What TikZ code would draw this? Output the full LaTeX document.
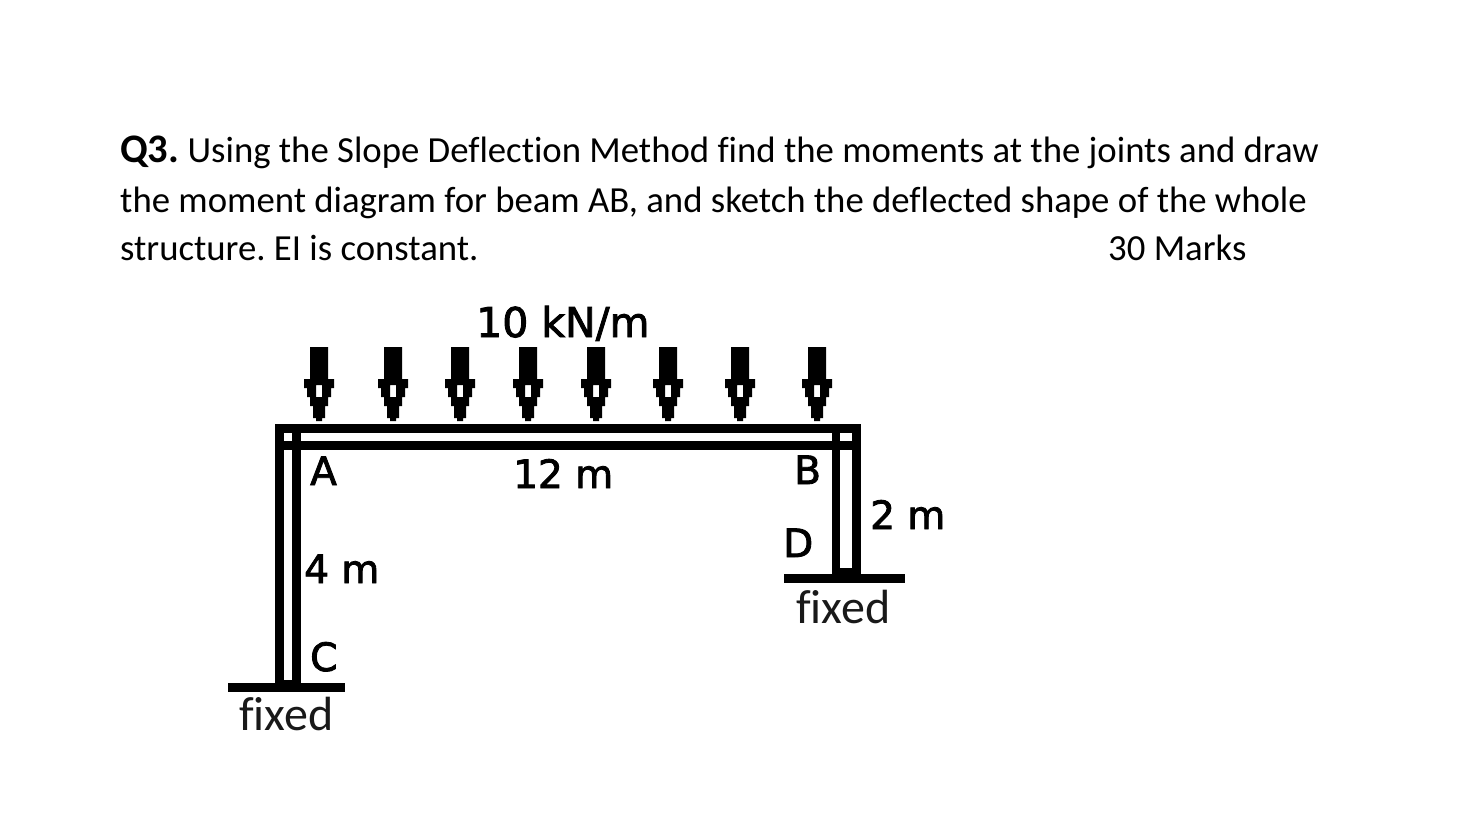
\documentclass[tikz,border=0pt]{standalone}
\usepackage{fontspec}
\setmainfont{Carlito}[Ligatures=NoCommon]
\newfontfamily\lbl{DejaVu Sans}[FakeBold=2.2]
\frenchspacing
\tikzset{
  member/.style={fill=black,draw=none},
  body/.style={anchor=base west,inner sep=0pt,font=\fontsize{36.75}{36.75}\selectfont},
  dim/.style={anchor=base west,inner sep=0pt,font=\lbl\fontsize{39}{39}\selectfont,text=black},
  fix/.style={anchor=base west,inner sep=0pt,font=\fontsize{48}{48}\selectfont,text=black!90},
  pics/udl/.style={code={
    \fill[black,even odd rule] (-9,347)--(9,347)--(9,379)--(15,379)--(15,388)--(12,388)--(12,397)--(9,397)--(9,406)--(6,406)--(6,418)--(3,418)--(3,421)--(-3,421)--(-3,418)--(-6,418)--(-6,406)--(-9,406)--(-9,397)--(-12,397)--(-12,388)--(-15,388)--(-15,379)--(-9,379)--cycle
      (-3,385) rectangle (3,397);
  }}
}
\begin{document}
\begin{tikzpicture}[x=1pt,y=-1pt]
\useasboundingbox[fill=white] (0,0) rectangle (1476,820);
% text
\node[body] (l1) at (120,162) {{\fontsize{40.5}{40.5}\selectfont\textbf{Q3.}} Using the Slope Deflection Method find the moments at the joints and draw};
\node[body] (l2) at (120,212) {the moment diagram for beam AB, and sketch the deflected shape of the whole};
\node[body] (l3) at (120,260) {structure. EI is constant.};
\node[body] (marks) at (1108,260) {30 Marks};
% load
\foreach \x in {319,393,460,528,596,668,740,817} \pic at (\x,0) {udl};
% frame
\fill[member] (275,424) rectangle (861,433);
\fill[member] (275,441) rectangle (861,450);
\fill[member] (275,424) rectangle (284,683);
\fill[member] (292,424) rectangle (301,683);
\fill[member] (275,680) rectangle (301,683);
\fill[member] (832,424) rectangle (840,574);
\fill[member] (852,424) rectangle (861,574);
\fill[member] (832,568) rectangle (861,574);
\fill[member] (228,683) rectangle (345,692);
\fill[member] (784,574) rectangle (905,583);
% labels
\node[dim,font=\lbl\fontsize{41}{41}\selectfont] (load) at (476,337) {10 kN/m};
\node[dim] (A) at (310,485) {A};
\node[dim] (span) at (513,488) {12 m};
\node[dim] (B) at (794,484) {B};
\node[dim] (two) at (870,529) {2 m};
\node[dim] (D) at (783,557) {D};
\node[dim] (four) at (304,583) {4 m};
\node[dim] (C) at (310,671) {C};
\node[fix] (fr) at (796,623) {fixed};
\node[fix] (fl) at (239,730) {fixed};
\end{tikzpicture}
\end{document}
